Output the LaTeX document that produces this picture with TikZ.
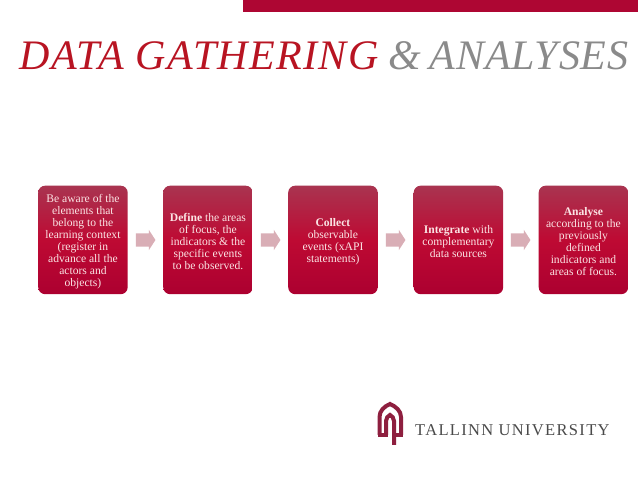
\documentclass[tikz,border=0pt]{standalone}
\usepackage{fontspec}
\setmainfont{Liberation Serif}
\usetikzlibrary{shapes.arrows}
\definecolor{barred}{HTML}{AE0633}
\definecolor{titlered}{HTML}{B81422}
\definecolor{titlegray}{HTML}{8A8A8A}
\definecolor{boxtop}{HTML}{A93450}
\definecolor{boxmid}{HTML}{BE0A33}
\definecolor{boxbot}{HTML}{AC0030}
\definecolor{boxtext}{HTML}{FBE4E4}
\definecolor{arrowpink}{HTML}{D9AEB6}
\definecolor{logored}{HTML}{8E1F3F}
\definecolor{logotext}{HTML}{4A4A4A}
\newcommand{\firstln}{\rule{0pt}{11pt}}
\tikzset{
  x=1pt,y=-1pt,
  stage/.style={rounded corners=7pt,minimum width=89.5pt,minimum height=108.5pt,inner sep=0pt,
    anchor=north west,top color=boxtop,bottom color=boxbot,middle color=boxmid,
    text=boxtext,align=center,font=\fontsize{11.6}{12pt}\selectfont},
  flow/.style={single arrow,draw=none,fill=arrowpink,minimum height=19.5pt,minimum width=0pt,
    inner xsep=0pt,inner ysep=6.5pt,single arrow head extend=3.5pt,single arrow head indent=0pt,
    single arrow tip angle=114},
  logostroke/.style={draw=logored,line width=4pt,line join=miter},
}
\begin{document}
\begin{tikzpicture}
\useasboundingbox (0,0) rectangle (638,478);
\fill[white] (0,0) rectangle (638,478);
\fill[barred] (243,0) rectangle (638,12.5);
\node[anchor=base west,inner sep=0pt,text=titlered,font=\fontsize{42}{44}\selectfont\itshape\addfontfeature{LetterSpace=3.2}] (title) at (19.5,70) {DATA GATHERING};
\node[anchor=base west,inner sep=0pt,text=titlegray,font=\fontsize{42}{44}\selectfont\itshape] (amp) at (388.5,70) {\&};
\node[anchor=base west,inner sep=0pt,text=titlegray,font=\fontsize{42}{44}\selectfont\itshape\addfontfeature{LetterSpace=2}] (title2) at (429.5,70) {ANALYSES};
\node[stage] (a) at (38,185.5) {\firstln Be aware of the\\elements that\\belong to the\\learning context\\(register in\\advance all the\\actors and\\objects)};
\node[stage] (b) at (163,185.5) {\firstln\textbf{Define} the areas\\of focus, the\\indicators \& the\\specific events\\to be observed.};
\node[stage] (c) at (288,185.5) {\firstln\textbf{Collect}\\observable\\events (xAPI\\statements)};
\node[stage] (d) at (413.5,185.5) {\firstln\textbf{Integrate} with\\complementary\\data sources};
\node[stage] (e) at (538.5,185.5) {\firstln\textbf{Analyse}\\according to the\\previously\\defined\\indicators and\\areas of focus.};
\node[flow] (ab) at (143.5,240) {};
\node[flow] (bc) at (268.5,240) {};
\node[flow] (cd) at (393.5,240) {};
\node[flow] (de) at (518.5,240) {};
% logo
\draw[logostroke] (379.5,435) -- (379.5,417) .. controls (379.5,411) and (384,406.5) .. (390,404)
  .. controls (396,406.5) and (401,411) .. (401,417) -- (401,435);
\draw[logostroke] (386,435) -- (386,421) .. controls (386,418) and (388,416) .. (390,415)
  .. controls (392,416) and (394,418) .. (394,421) -- (394,445);
\draw[logostroke] (377.5,435) -- (388,435);
\draw[logostroke] (392,435) -- (403,435);
\node[anchor=base west,inner sep=0pt,text=logotext,font=\fontsize{16.5}{17}\selectfont\addfontfeature{LetterSpace=8}] (logo) at (415,436) {TALLINN UNIVERSITY};
\end{tikzpicture}
\end{document}
